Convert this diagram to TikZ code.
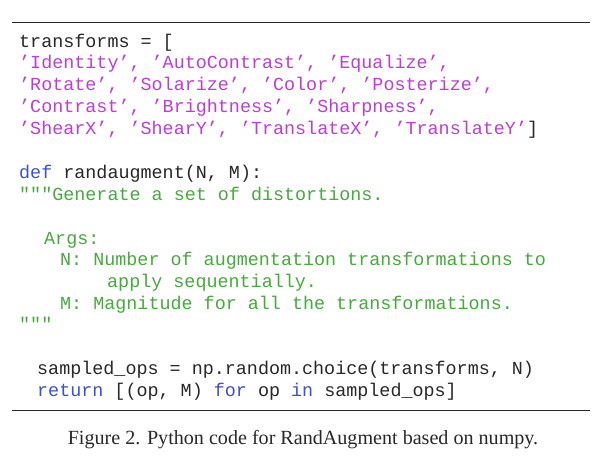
\documentclass[tikz,border=0pt]{standalone}
\usepackage{fontspec}
\setmainfont{Liberation Serif}
\newfontfamily\codefont{Liberation Mono}
\definecolor{kw}{RGB}{60,80,210}
\definecolor{st}{RGB}{190,60,215}
\definecolor{cm}{RGB}{70,170,60}
\definecolor{tx}{RGB}{40,40,40}
\begin{document}
\begin{tikzpicture}[x=1pt,y=-1pt,
  code/.style={anchor=base west,inner sep=0pt,font=\codefont\fontsize{18.4}{20}\selectfont,text=tx}]
\useasboundingbox (0,0) rectangle (604,459);
\draw[line width=1pt,tx] (12,22) -- (590,22);
\draw[line width=1pt,tx] (12,410) -- (590,410);
\node[code] (l1) at (19,47) {transforms = [};
\node[code,text=st] (l2) at (19,68) {’Identity’, ’AutoContrast’, ’Equalize’,};
\node[code,text=st] (l3) at (19,90) {’Rotate’, ’Solarize’, ’Color’, ’Posterize’,};
\node[code,text=st] (l4) at (19,112) {’Contrast’, ’Brightness’, ’Sharpness’,};
\node[code,text=st] (l5) at (19,134) {’ShearX’, ’ShearY’, ’TranslateX’, ’TranslateY’\textcolor{tx}{]}};
\node[code] (l6) at (19,178) {\textcolor{kw}{def} randaugment(N, M):};
\node[code,text=cm] (l7) at (19,200) {"""Generate a set of distortions.};
\node[code,text=cm] (l8) at (44,244) {Args:};
\node[code,text=cm] (l9) at (60,265) {N: Number of augmentation transformations to};
\node[code,text=cm] (l10) at (107,287) {apply sequentially.};
\node[code,text=cm] (l11) at (60,309) {M: Magnitude for all the transformations.};
\node[code,text=cm] (l12) at (19,330) {"""};
\node[code] (l13) at (37,374) {sampled\_ops = np.random.choice(transforms, N)};
\node[code] (l14) at (37,396) {\textcolor{kw}{return} [(op, M) \textcolor{kw}{for} op \textcolor{kw}{in} sampled\_ops]};
\node[inner sep=0pt,font=\fontsize{20.1}{22}\selectfont,text=tx] (cap) at (303,440) {Figure 2. Python code for RandAugment based on numpy.};
\end{tikzpicture}
\end{document}
